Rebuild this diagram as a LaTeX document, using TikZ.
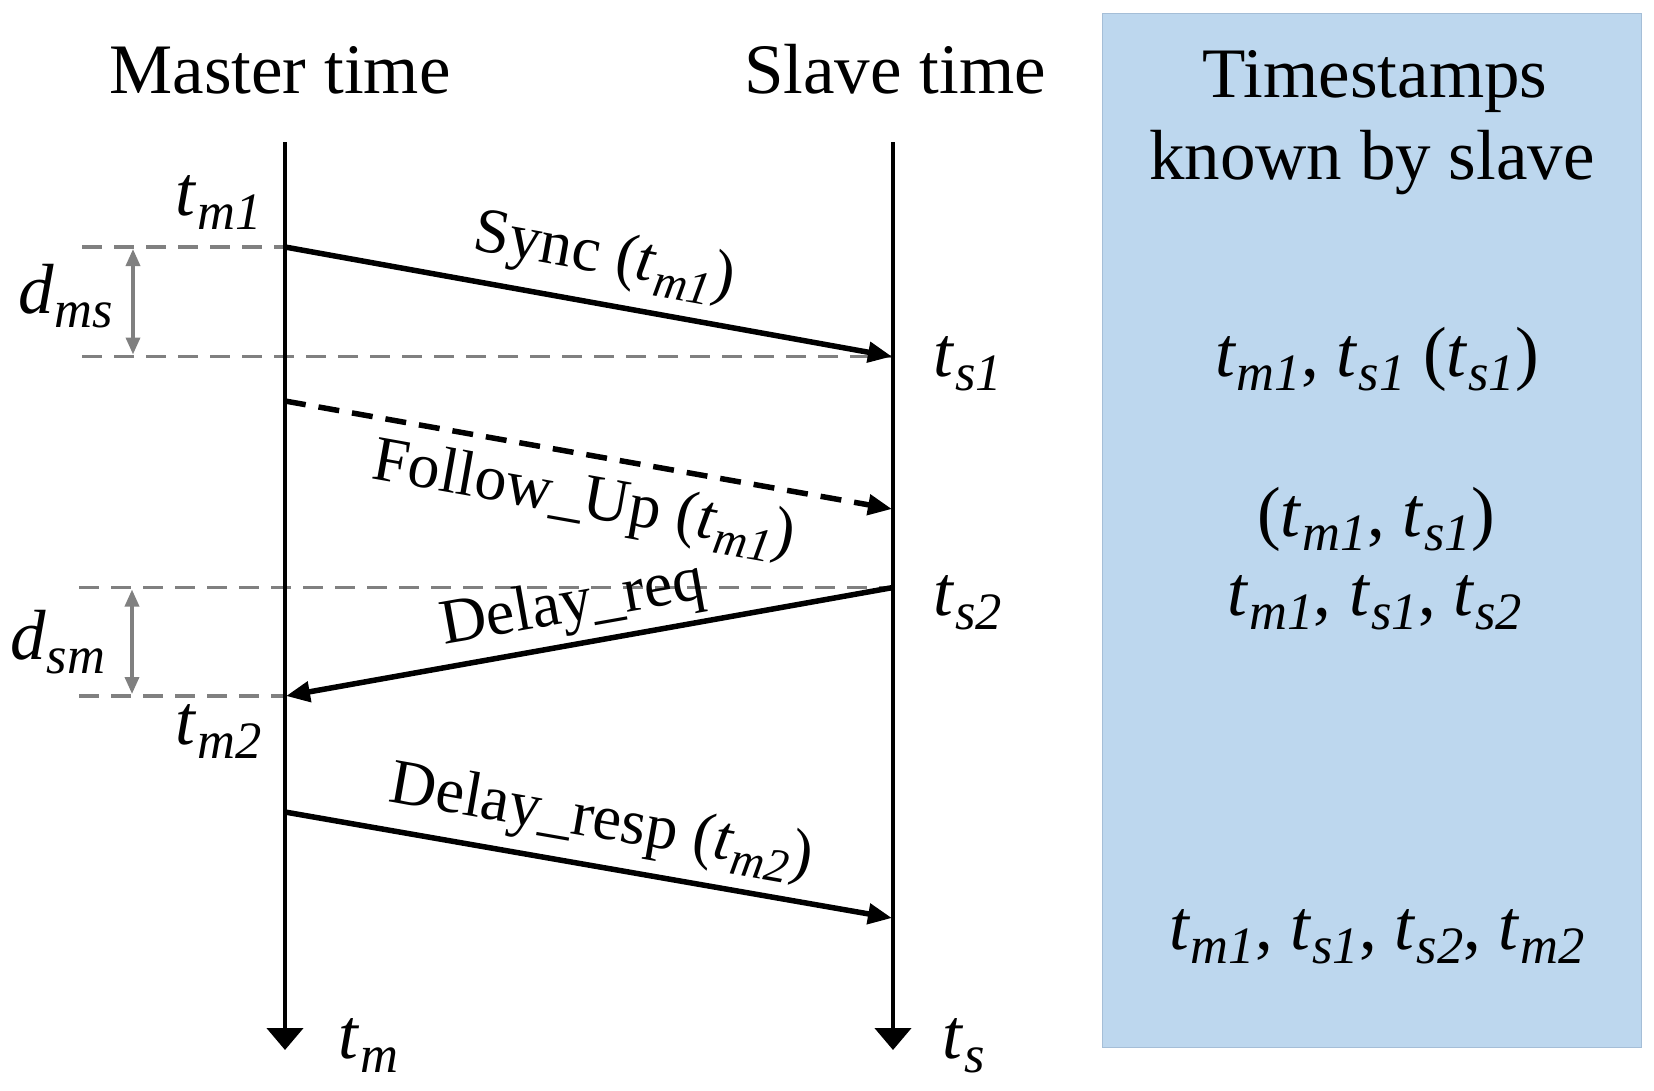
\documentclass[tikz,border=0pt]{standalone}
\usepackage{graphicx}
\usepackage{fontspec}
\setmainfont{Liberation Serif}
\usetikzlibrary{arrows.meta}
\definecolor{boxblue}{RGB}{189,215,238}
\definecolor{boxedge}{RGB}{165,190,215}
\newcommand\iv[2]{\textit{#1}\kern0.01em\raisebox{-0.2em}{\scalebox{0.74}{\textit{#2}}}}
\newcommand\tv[1]{\iv{t}{#1}}
\begin{document}
\begin{tikzpicture}[x=1pt,y=-1pt,
  big/.style={font=\fontsize{71}{82}\selectfont, inner sep=0pt},
  msgtext/.style={font=\fontsize{64}{74}\selectfont, inner sep=0pt},
  timeline/.style={line width=4.5pt, -{Triangle[length=22pt,width=36pt]}},
  msg/.style={line width=5.5pt, -{Triangle[length=24pt,width=20pt]}},
  msgdash/.style={msg, dash pattern=on 21pt off 13pt},
  guide/.style={draw=gray, line width=3.5pt, dash pattern=on 20pt off 12pt},
  span/.style={draw=gray, line width=3.5pt, {Triangle[length=17pt,width=14pt]}-{Triangle[length=17pt,width=14pt]}}
]
\useasboundingbox (0,0) rectangle (1654,1090);

% panel
\node[draw=boxedge, line width=1pt, fill=boxblue, minimum width=539pt, minimum height=1034pt,
      anchor=north west, inner sep=0pt] (panel) at (1102,13) {};

% coordinates
\coordinate (mtop) at (285,142); \coordinate (mbot) at (285,1050);
\coordinate (stop) at (893,142); \coordinate (sbot) at (893,1050);
\coordinate (msync) at (285,247); \coordinate (ssync) at (892,356.5);
\coordinate (mfol) at (285,401);  \coordinate (sfol) at (892,509);
\coordinate (sreq) at (893,587.5); \coordinate (mreq) at (286,696);
\coordinate (mresp) at (285,812); \coordinate (sresp) at (892,918);
\coordinate (g1a) at (82,247);   \coordinate (g1b) at (285,247);
\coordinate (g2a) at (82,356.5); \coordinate (g2b) at (893,356.5);
\coordinate (g3a) at (79,587.5); \coordinate (g3b) at (893,587.5);
\coordinate (g4a) at (79,696);   \coordinate (g4b) at (285,696);
\coordinate (d1a) at (133,249); \coordinate (d1b) at (133,354.5);
\coordinate (d2a) at (132,589.5); \coordinate (d2b) at (132,694);

% guides
\draw[guide] (g1a) -- (g1b);
\draw[guide] (g2a) -- (g2b);
\draw[guide] (g3a) -- (g3b);
\draw[guide] (g4a) -- (g4b);
\draw[span] (d1a) -- (d1b);
\draw[span] (d2a) -- (d2b);

% timelines
\draw[timeline] (mtop) -- (mbot);
\draw[timeline] (stop) -- (sbot);

% messages
\draw[msg] (msync) -- (ssync);
\draw[msgdash] (mfol) -- (sfol);
\draw[msg] (sreq) -- (mreq);
\draw[msg] (mresp) -- (sresp);

% titles
\node[big, anchor=base] (mtitle) at (280,93) {Master time};
\node[big, anchor=base] (stitle) at (895,93) {Slave time};
\node[big, anchor=base] (ptitle1) at (1375,97) {Timestamps};
\node[big, anchor=base] (ptitle2) at (1372,179) {known by slave};

% time labels
\node[big, anchor=base east] (lm1) at (262,215) {\tv{m1}};
\node[big, anchor=base west] (ldms) at (18,313) {\iv{d}{ms}};
\node[big, anchor=base west] (ls1) at (933,376) {\tv{s1}};
\node[big, anchor=base west] (ls2) at (933,615) {\tv{s2}};
\node[big, anchor=base west] (ldsm) at (10,659) {\iv{d}{sm}};
\node[big, anchor=base east] (lm2) at (262,744) {\tv{m2}};
\node[big, anchor=base west] (ltm) at (338,1058) {\tv{m}};
\node[big, anchor=base west] (lts) at (942,1058) {\tv{s}};

% message labels
\node[msgtext, rotate=-10.2] (lsync) at (604,258) {Sync (\tv{m1})};
\node[msgtext, rotate=-10.1] (lfol) at (584,501) {Follow\_Up (\tv{m1})};
\node[msgtext, rotate=10.1] (lreq) at (573,606) {Delay\_req};
\node[msgtext, rotate=-9.9] (lresp) at (601,823) {Delay\_resp (\tv{m2})};

% panel contents
\node[big, anchor=base] (k1) at (1377,376) {\tv{m1}, \tv{s1} (\tv{s1})};
\node[big, anchor=base] (k2) at (1376,536) {(\tv{m1}, \tv{s1})};
\node[big, anchor=base] (k3) at (1375,615) {\tv{m1}, \tv{s1}, \tv{s2}};
\node[big, anchor=base] (k4) at (1377,949) {\tv{m1}, \tv{s1}, \tv{s2}, \tv{m2}};
\end{tikzpicture}
\end{document}
